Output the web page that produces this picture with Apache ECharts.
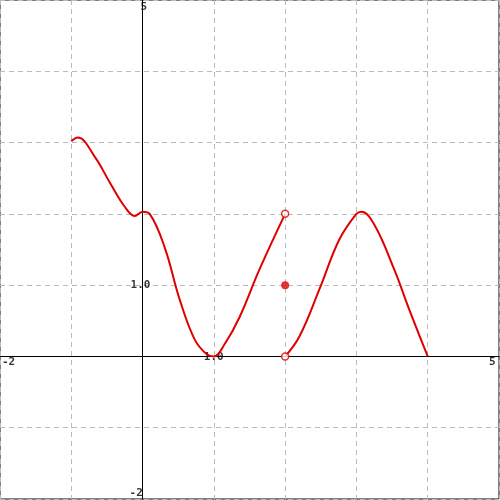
<!doctype html>
<html>
<head>
<meta charset="utf-8">
<script src="https://cdn.jsdelivr.net/npm/echarts@6/dist/echarts.min.js"></script>
<style>html,body{margin:0;padding:0;background:#fff}#main{width:500px;height:500px}</style>
</head>
<body>
<div id="main"></div>
<script>
var leftPiece = [[-1,3.02],[-0.91,3.07],[-0.67,2.8],[-0.46,2.44],[-0.25,2.1],[-0.11,1.97],[0,2.03],[0.1,2.0],[0.31,1.53],[0.52,0.8],[0.73,0.24],[0.9,0.03],[1,0],[1.15,0.17],[1.36,0.55],[1.64,1.22],[2,2]];
var rightPiece = [[2,0],[2.2,0.28],[2.48,0.94],[2.76,1.64],[3,2],[3.07,2.03],[3.25,1.85],[3.53,1.22],[3.74,0.66],[4,0]];
var openPoints = [[2,2],[2,0]];
var filledPoints = [[2,1]];
var tickTexts = [
    { x: 1, y: 0, text: '1.0', off: [-10, -5] },
    { x: 0, y: 1, text: '1.0', off: [-12, -6] },
    { x: 0, y: 5, text: '5', off: [-2, 2] },
    { x: 0, y: -2, text: '-2', off: [-13, -11] },
    { x: -2, y: 0, text: '-2', off: [2, 0] },
    { x: 5, y: 0, text: '5', off: [-10, 0] }
];

var chart = echarts.init(document.getElementById('main'));
var red = '#e00000';
var axisCommon = {
    type: 'value', min: -2, max: 5, interval: 1,
    axisLine: { onZero: true, lineStyle: { color: '#000', width: 1 } },
    axisTick: { show: false },
    axisLabel: { show: false },
    splitLine: { show: true, lineStyle: { color: '#bbb', type: [5, 4] } }
};
chart.setOption({
    animation: false,
    grid: { left: 0, right: 1, top: 0, bottom: 1, show: true, borderColor: '#000', borderWidth: 1 },
    xAxis: axisCommon,
    yAxis: axisCommon,
    series: [
        { type: 'line', data: leftPiece, smooth: 0.4, showSymbol: false, lineStyle: { color: red, width: 2 } },
        { type: 'line', data: rightPiece, smooth: 0.4, showSymbol: false, lineStyle: { color: red, width: 2 } },
        { type: 'scatter', data: openPoints, symbolSize: 7, itemStyle: { color: '#fff', borderColor: red, borderWidth: 1.5 }, z: 5 },
        { type: 'scatter', data: filledPoints, symbolSize: 8, itemStyle: { color: red }, z: 5 },
        {
            type: 'scatter', symbolSize: 0, silent: true,
            data: tickTexts.map(function (t) {
                return { value: [t.x, t.y], label: { show: true, formatter: t.text, position: t.off } };
            }),
            label: { color: '#000', fontFamily: 'DejaVu Sans Mono', fontSize: 11, fontWeight: 'bold', backgroundColor: 'transparent' }
        }
    ]
});
</script>
</body>
</html>
